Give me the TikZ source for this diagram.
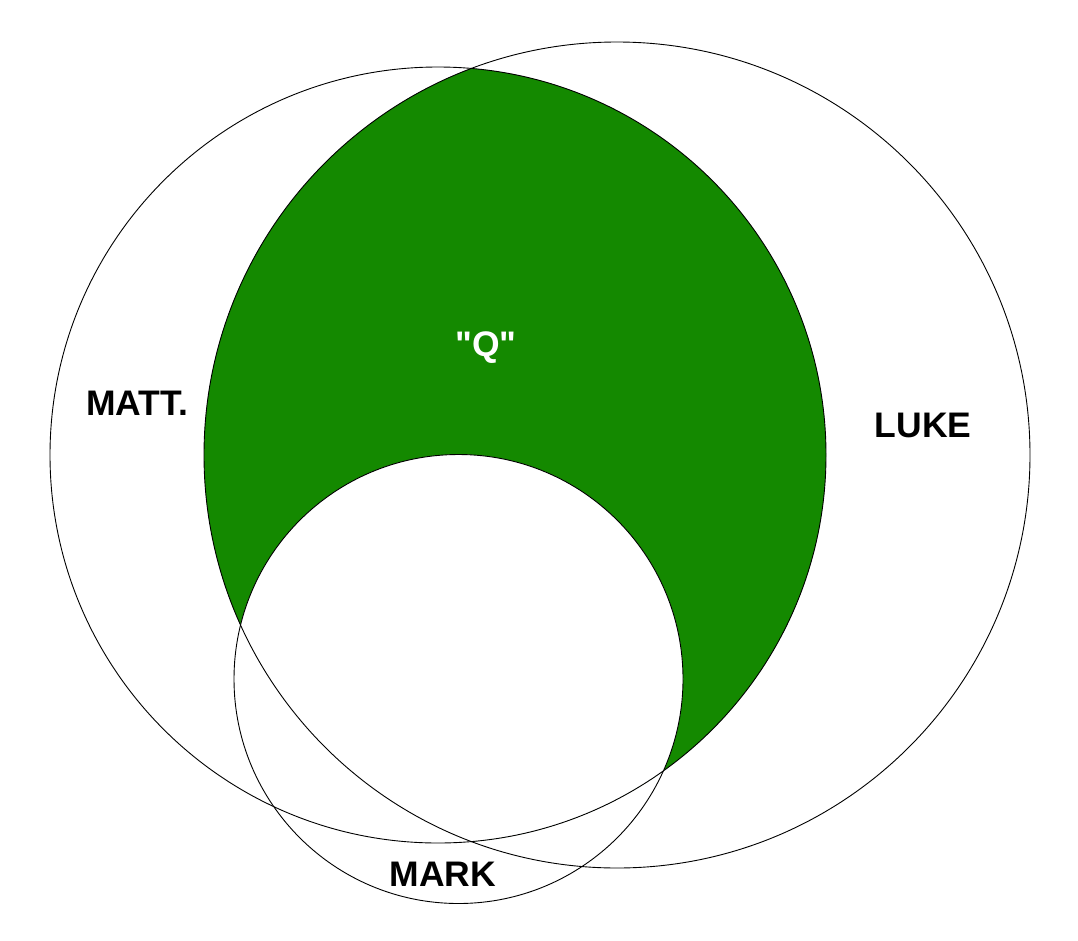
\documentclass[tikz,border=0pt]{standalone}
\usepackage{fontspec}
\setmainfont{Liberation Sans}
\definecolor{qgreen}{RGB}{20,137,0}
\begin{document}
\begin{tikzpicture}[x=1pt,y=-1pt,
  ring/.style={draw=black,line width=0.9pt},
  lbl/.style={font=\fontsize{35.5}{42}\selectfont\bfseries,inner sep=0pt}]
\useasboundingbox[fill=white] (0,0) rectangle (1078,940);
\begin{scope}
  \clip (438,455) circle[radius=388];
  \fill[qgreen] (617,455) circle[radius=413];
  \fill[white] (458.5,679) circle[radius=224.5];
\end{scope}
\draw[ring] (438,455) circle[radius=388];
\draw[ring] (617,455) circle[radius=413];
\draw[ring] (458.5,679) circle[radius=224.5];
\node[lbl] (matt) at (137,403) {MATT.};
\node[lbl] (luke) at (923,425) {LUKE};
\node[lbl] (mark) at (443,874) {MARK};
\node[lbl,text=white] (q) at (486,348) {\textquotedbl Q\textquotedbl};
\end{tikzpicture}
\end{document}
